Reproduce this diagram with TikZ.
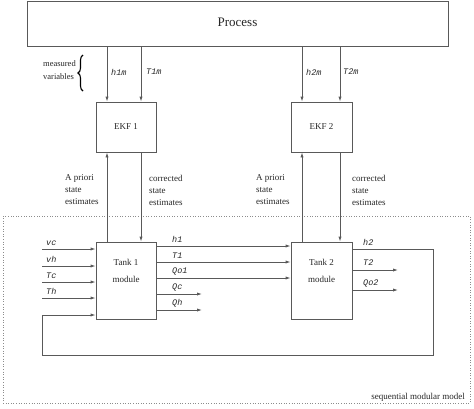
\documentclass[tikz,border=0pt]{standalone}
\usepackage{fontspec}
\setmainfont{Liberation Serif}
\setmonofont{Liberation Mono}
\usetikzlibrary{arrows.meta,decorations.pathreplacing}
\begin{document}
\begin{tikzpicture}[x=1pt,y=-1pt,
  ln/.style={draw=black!65, line width=0.8pt},
  arr/.style={ln, -{Latex[length=5pt,width=3.2pt]}},
  box/.style={ln, fill=white, inner sep=0pt},
  txt/.style={font=\fontsize{9}{12}\selectfont, text=black!85, inner sep=0pt},
  var/.style={font=\fontsize{8.5}{10}\selectfont\ttfamily\itshape, text=black!85, inner sep=0pt, anchor=west}]
\useasboundingbox (0,0) rectangle (474,408);
% dotted frame
\node[draw=black!45, dotted, line width=0.6pt, minimum width=467pt, minimum height=187pt, inner sep=0pt] (frame) at (236.5,309.5) {};
\node[txt, anchor=east] (seqlbl) at (465,397) {sequential modular model};
% boxes
\node[box, minimum width=421pt, minimum height=45pt] (proc) at (237.5,23.5) {};
\node[font=\fontsize{13}{15}\selectfont, text=black!85] (proctxt) at (237.5,22) {Process};
\node[box, minimum width=60pt, minimum height=50pt, txt] (ekf1) at (126,127) {EKF 1};
\node[box, minimum width=61pt, minimum height=50pt, txt] (ekf2) at (321.5,127) {EKF 2};
\node[box, minimum width=60pt, minimum height=77pt] (tank1) at (126,280.5) {};
\node[box, minimum width=61pt, minimum height=77pt] (tank2) at (321.5,280.5) {};
\node[txt, align=center] (t1txt) at (126,271) {Tank 1\\[5pt]module};
\node[txt, align=center] (t2txt) at (321.5,271) {Tank 2\\[5pt]module};
% x positions
\coordinate (xa) at (107,0);
\coordinate (xb) at (141,0);
\coordinate (xc) at (302,0);
\coordinate (xd) at (340,0);
% measured arrows
\draw[arr] (proc.south -| xa) -- (ekf1.north -| xa);
\draw[arr] (proc.south -| xb) -- (ekf1.north -| xb);
\draw[arr] (proc.south -| xc) -- (ekf2.north -| xc);
\draw[arr] (proc.south -| xd) -- (ekf2.north -| xd);
\node[var] (h1m) at (111,72) {h1m};
\node[var] (T1m) at (146,72) {T1m};
\node[var] (h2m) at (306,72) {h2m};
\node[var] (T2m) at (343,72) {T2m};
\node[txt, align=left, anchor=west, font=\fontsize{8.5}{12.5}\selectfont] (meas) at (43,70) {measured\\variables};
\coordinate (brb) at (83,91);
\coordinate (brt) at (83,55);
\draw[black, line width=1.1pt, decorate, decoration={brace, amplitude=5pt}] (brb) -- (brt);
% estimates
\draw[arr] (tank1.north -| xa) -- (ekf1.south -| xa);
\draw[arr] (ekf1.south -| xb) -- (tank1.north -| xb);
\draw[arr] (tank2.north -| xc) -- (ekf2.south -| xc);
\draw[arr] (ekf2.south -| xd) -- (tank2.north -| xd);
\node[txt, align=left, anchor=west] (ap1) at (65,190) {A priori\\state\\estimates};
\node[txt, align=left, anchor=west] (ce1) at (149,190) {corrected\\state\\estimates};
\node[txt, align=left, anchor=west] (ap2) at (256,190) {A priori\\state\\estimates};
\node[txt, align=left, anchor=west] (ce2) at (352,190) {corrected\\state\\estimates};
% inputs
\coordinate (ivc) at (42,249);
\coordinate (ivh) at (42,266);
\coordinate (iTc) at (42,282);
\coordinate (iTh) at (42,298);
\draw[arr] (ivc) -- (tank1.west |- ivc);
\draw[arr] (ivh) -- (tank1.west |- ivh);
\draw[arr] (iTc) -- (tank1.west |- iTc);
\draw[arr] (iTh) -- (tank1.west |- iTh);
\node[var] (lvc) at (46,243) {vc};
\node[var] (lvh) at (46,259) {vh};
\node[var] (lTc) at (46,275.5) {Tc};
\node[var] (lTh) at (46,291.5) {Th};
% tank1 outputs
\coordinate (o1) at (0,246);
\coordinate (o2) at (0,262);
\coordinate (o3) at (0,278);
\coordinate (eQc) at (202,294);
\coordinate (eQh) at (202,310);
\draw[arr] (tank1.east |- o1) -- (tank2.west |- o1);
\draw[arr] (tank1.east |- o2) -- (tank2.west |- o2);
\draw[arr] (tank1.east |- o3) -- (tank2.west |- o3);
\draw[arr] (tank1.east |- eQc) -- (eQc);
\draw[arr] (tank1.east |- eQh) -- (eQh);
\node[var] (lh1) at (172,239) {h1};
\node[var] (lT1) at (172,255.5) {T1};
\node[var] (lQo1) at (172,271.5) {Qo1};
\node[var] (lQc) at (172,287.5) {Qc};
\node[var] (lQh) at (172,303.5) {Qh};
% tank2 outputs
\coordinate (eT2) at (398,270);
\coordinate (eQo2) at (398,290);
\draw[arr] (tank2.east |- eT2) -- (eT2);
\draw[arr] (tank2.east |- eQo2) -- (eQo2);
\node[var] (lh2) at (363,242.5) {h2};
\node[var] (lT2) at (363,263) {T2};
\node[var] (lQo2) at (363,283.5) {Qo2};
% feedback loop
\coordinate (fbr) at (433,355);
\coordinate (fbl) at (42,315);
\coordinate (h2y) at (0,249);
\draw[arr] (tank2.east |- h2y) -| (fbr) -| (fbl) -- (tank1.west |- fbl);
\end{tikzpicture}
\end{document}
